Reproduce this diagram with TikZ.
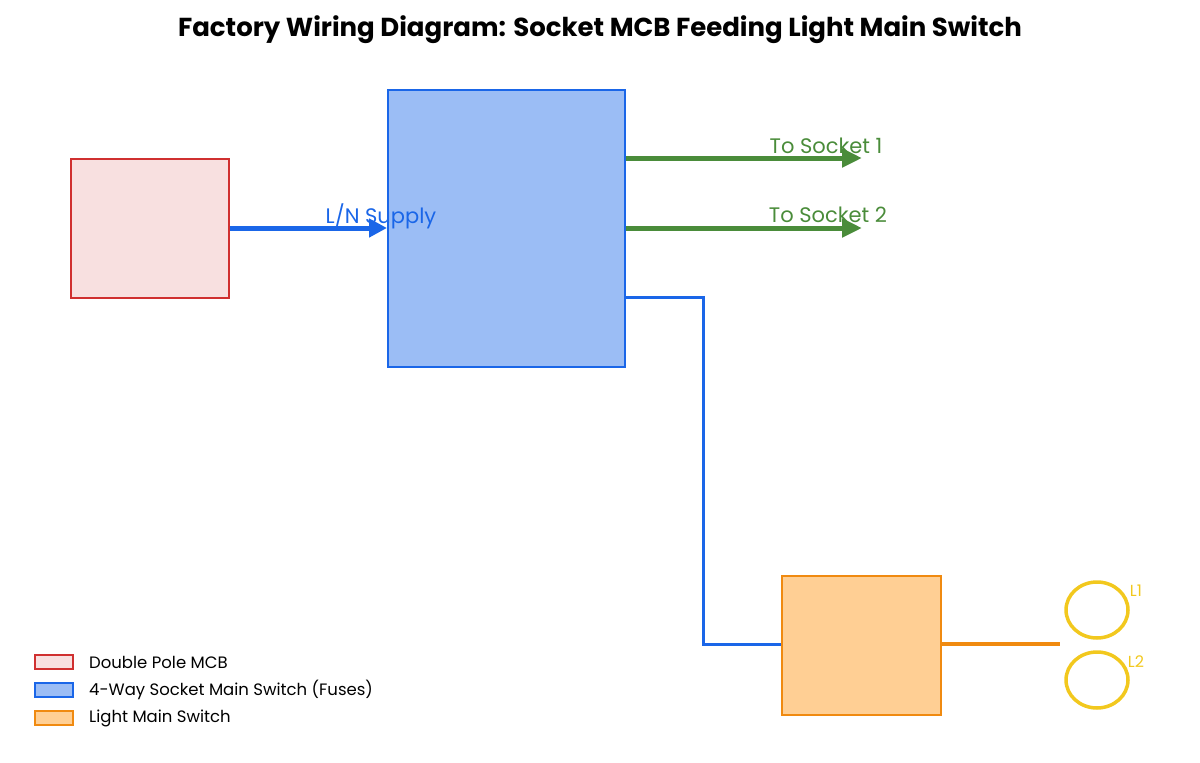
\documentclass[tikz,border=0pt]{standalone}
\usepackage{fontspec}
\setmainfont{Poppins}
\usetikzlibrary{arrows.meta,shapes.geometric}
\definecolor{mcbF}{HTML}{F8E0E0}\definecolor{mcbD}{HTML}{D03030}
\definecolor{sckF}{HTML}{9BBDF5}\definecolor{sckD}{HTML}{1A66E8}
\definecolor{lgtF}{HTML}{FFCF94}\definecolor{lgtD}{HTML}{F08A10}
\definecolor{grn}{HTML}{4A8C3A}\definecolor{yel}{HTML}{F2C81E}
\begin{document}
\begin{tikzpicture}[x=1pt,y=-1pt,
 box/.style={draw,line width=1.8pt,inner sep=0,anchor=north west},
 lab/.style={font=\fontsize{21}{24}\selectfont,inner sep=0},
 leg/.style={draw,line width=1.8pt,minimum width=38pt,minimum height=14pt,inner sep=0},
 legt/.style={font=\fontsize{16.5}{19}\selectfont,anchor=west,inner sep=0},
 lamp/.style={draw=yel,line width=3.5pt,ellipse,minimum width=62pt,minimum height=56pt,inner sep=0}]
\useasboundingbox (0,0) rectangle (1200,763);
\node[font=\bfseries\fontsize{26}{30}\selectfont] (title) at (600,30) {Factory Wiring Diagram: Socket MCB Feeding Light Main Switch};
\node[box,draw=mcbD,fill=mcbF,minimum width=158pt,minimum height=139pt] (mcb) at (70,158) {};
\node[box,draw=sckD,fill=sckF,minimum width=237pt,minimum height=277pt] (sck) at (387,89) {};
\node[box,draw=lgtD,fill=lgtF,minimum width=159pt,minimum height=139pt] (lgt) at (781,575) {};
\coordinate (s1) at (862,158);\coordinate (s2) at (862,228);
\coordinate (oe) at (1060,644);
\draw[sckD,line width=5pt,-{Triangle[length=18pt,width=18pt]}] (mcb.east |- 0,228) -- (sck.west |- 0,228);
\node[lab,text=sckD] (ln) at (381,216) {L/N Supply};
\draw[grn,line width=5pt,-{Triangle[length=20pt,width=18pt]}] (sck.east |- s1) -- (s1);
\draw[grn,line width=5pt,-{Triangle[length=20pt,width=18pt]}] (sck.east |- s2) -- (s2);
\node[lab,text=grn] (t1) at (826,146) {To Socket 1};
\node[lab,text=grn] (t2) at (828,215) {To Socket 2};
\draw[sckD,line width=3pt] (624,297) -- (703,297) -- (703,644) -- (lgt.west |- 0,644);
\draw[lgtD,line width=4pt] (lgt.east |- oe) -- (oe);
\node[lamp] (L1) at (1097,610) {};
\node[lamp] (L2) at (1097,680) {};
\node[text=yel,font=\fontsize{16}{18}\selectfont,inner sep=0] (l1t) at (1136,591) {L1};
\node[text=yel,font=\fontsize{16}{18}\selectfont,inner sep=0] (l2t) at (1136,662) {L2};
\node[leg,draw=mcbD,fill=mcbF] (g1) at (54,662) {};
\node[leg,draw=sckD,fill=sckF] (g2) at (54,690) {};
\node[leg,draw=lgtD,fill=lgtF] (g3) at (54,718) {};
\node[legt] at (89,662) {Double Pole MCB};
\node[legt] at (89,690) {4-Way Socket Main Switch (Fuses)};
\node[legt] at (89,718) {Light Main Switch};
\end{tikzpicture}
\end{document}
